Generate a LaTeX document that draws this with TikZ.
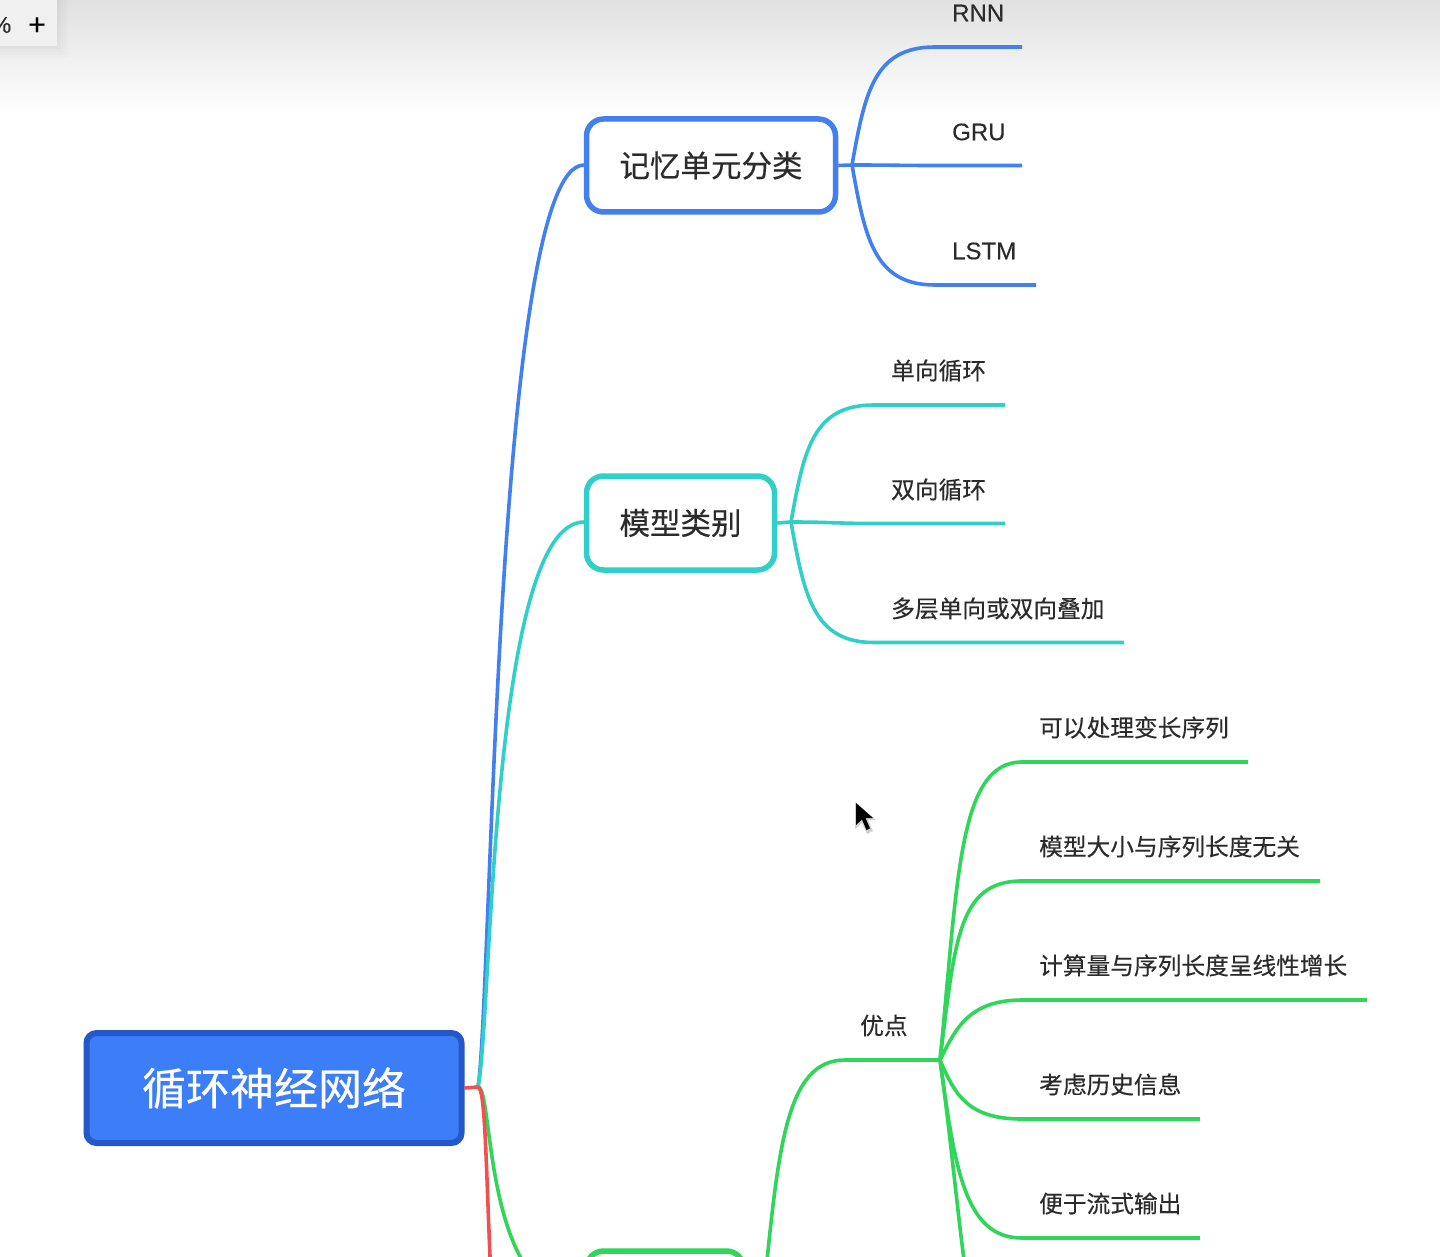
\documentclass[tikz,border=0pt]{standalone}
\usepackage{fontspec}
\setmainfont{Noto Sans CJK SC}[FakeBold=0.35]
\newfontfamily\latinfont{Liberation Sans}[FakeBold=0.2]
\definecolor{cblue}{HTML}{4280F2}
\definecolor{cteal}{HTML}{30CFC8}
\definecolor{cgreen}{HTML}{2FD65A}
\definecolor{cred}{HTML}{F05050}
\definecolor{rootfill}{HTML}{3C7DF8}
\definecolor{rootedge}{HTML}{2457C8}
\definecolor{ink}{HTML}{2B2B2B}
\tikzset{
  rootbox/.style={draw=rootedge,fill=rootfill,line width=6pt,rounded corners=10pt,inner sep=0pt,text=white,font=\fontsize{44}{44}\selectfont},
  topicbox/.style={fill=white,line width=5.5pt,rounded corners=17pt,inner sep=0pt,text=ink,font=\fontsize{30.5}{30}\selectfont},
  leaftext/.style={anchor=west,inner sep=0pt,text=ink,font=\fontsize{23.7}{24}\selectfont},
  latintext/.style={anchor=west,inner sep=0pt,text=ink,font=\latinfont\fontsize{24}{25}\selectfont},
  conn/.style={line width=3.6pt,line cap=butt,line join=round},
}
\begin{document}
\begin{tikzpicture}[x=1pt,y=-1pt]
\useasboundingbox (0,0) rectangle (1440,1257);
\clip (0,0) rectangle (1440,1257);
\fill[white] (0,0) rectangle (1440,1257);
\shade[top color=black!12,bottom color=white] (0,0) rectangle (1440,116);
% toolbar
\foreach \d/\o in {12/.008,9/.01,6/.012,3/.015}{\fill[black,opacity=\o] (0,0) rectangle (57+\d,46+\d);}
\fill[black!6] (0,0) rectangle (57,46);
\node[inner sep=0pt,text=ink,font=\latinfont\fontsize{23}{23}\selectfont] (pct) at (1,25) {\%};
\node[inner sep=0pt,text=black,font=\latinfont\fontsize{30}{30}\selectfont] (plus) at (37,26) {+};
% nodes
\node[rootbox,minimum width=375pt,minimum height=110pt] (root) at (274,1088) {循环神经网络};
\node[topicbox,draw=cblue,minimum width=249pt,minimum height=93pt] (mem) at (711,165.5) {记忆单元分类};
\node[topicbox,draw=cteal,minimum width=188pt,minimum height=94pt] (model) at (680.5,523) {模型类别};
\node[topicbox,draw=cgreen,minimum width=157pt,minimum height=100pt] (proscons) at (665,1301) {};
% junctions and ends
\coordinate (j0) at (478,1087);
\coordinate (j1) at (852,165);
\coordinate (j2) at (791,522);
\coordinate (j3) at (940,1060);
\coordinate (j4) at (763,1301);
\coordinate (a1) at (1022,47); \coordinate (a2) at (1022,165.5); \coordinate (a3) at (1036,285);
\coordinate (b1) at (1005,405); \coordinate (b2) at (1005,523.5); \coordinate (b3) at (1124,642.5);
\coordinate (c1) at (1248,762); \coordinate (c2) at (1320,881); \coordinate (c3) at (1367,1000);
\coordinate (c4) at (1200,1119); \coordinate (c5) at (1200,1238); \coordinate (c6) at (968,1290);
\coordinate (redend) at (492,1300);
% root connectors
\draw[conn,cblue] (j0) .. controls (492,1000) and (495,165) .. (584,165);
\draw[conn,cteal] (j0) .. controls (492,1020) and (490,522) .. (584,522);
\draw[conn,cgreen] (j0) .. controls (494,1087) and (482,1301) .. (584,1301);
\draw[conn,cred] (root.east) -- (j0) .. controls (486,1087) and (486,1180) .. (redend);
% memory branch
\draw[conn,cblue] (mem.east) -- (j1);
\draw[conn,cblue] (j1) .. controls (865,92) and (874,47) .. (935,47) -- (a1);
\draw[conn,cblue] (j1) .. controls (890,165) and (900,165.5) .. (935,165.5) -- (a2);
\draw[conn,cblue] (j1) .. controls (865,238) and (874,285) .. (935,285) -- (a3);
% model branch
\draw[conn,cteal] (model.east) -- (j2);
\draw[conn,cteal] (j2) .. controls (804,449) and (813,405) .. (874,405) -- (b1);
\draw[conn,cteal] (j2) .. controls (829,522) and (839,523.5) .. (874,523.5) -- (b2);
\draw[conn,cteal] (j2) .. controls (804,595) and (813,642.5) .. (874,642.5) -- (b3);
% green branch
\draw[conn,cgreen] (proscons.east) -- (j4) .. controls (778,1150) and (785,1060) .. (845,1060) -- (j3);
\draw[conn,cgreen] (j3) .. controls (958,880) and (958,762) .. (1022,762) -- (c1);
\draw[conn,cgreen] (j3) .. controls (955,940) and (958,881) .. (1022,881) -- (c2);
\draw[conn,cgreen] (j3) .. controls (955,1030) and (968,1000) .. (1022,1000) -- (c3);
\draw[conn,cgreen] (j3) .. controls (955,1095) and (968,1119) .. (1022,1119) -- (c4);
\draw[conn,cgreen] (j3) .. controls (955,1170) and (965,1238) .. (1022,1238) -- (c5);
\draw[conn,cgreen] (j3) .. controls (950,1130) and (958,1220) .. (c6);
% labels
\node[latintext] (t1) at (952,13) {RNN};
\node[latintext] (t2) at (952,132) {GRU};
\node[latintext] (t3) at (952,251) {LSTM};
\node[leaftext] (t4) at (891,370.5) {单向循环};
\node[leaftext] (t5) at (891,489.5) {双向循环};
\node[leaftext] (t6) at (891,608.5) {多层单向或双向叠加};
\node[leaftext] (t7) at (860,1025.5) {优点};
\node[leaftext] (t8) at (1039,727.5) {可以处理变长序列};
\node[leaftext] (t9) at (1039,846.5) {模型大小与序列长度无关};
\node[leaftext] (t10) at (1039,965.5) {计算量与序列长度呈线性增长};
\node[leaftext] (t11) at (1039,1084.5) {考虑历史信息};
\node[leaftext] (t12) at (1039,1203.5) {便于流式输出};
% cursor
\fill[black,opacity=.18] (855,802) -- (855,829) -- (862,823) -- (867,834) -- (873,831) -- (868,820) -- (876,820) -- cycle;
\fill[black] (856,803) -- (856,825) -- (862,819.5) -- (866.5,830) -- (870,828.5) -- (865.5,818) -- (873,818) -- cycle;
\end{tikzpicture}
\end{document}
